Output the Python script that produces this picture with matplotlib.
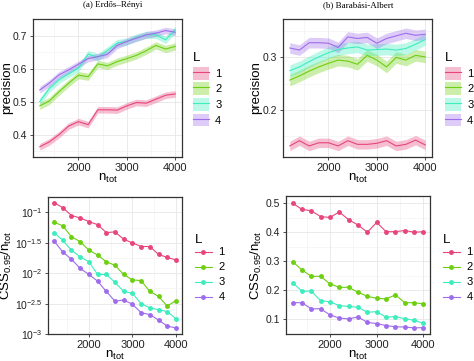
import numpy as np
import matplotlib
matplotlib.use('Agg')
import matplotlib.pyplot as plt
from matplotlib.lines import Line2D
from matplotlib.patches import Patch

plt.rcParams['font.family'] = ['Liberation Sans', 'DejaVu Sans']
plt.rcParams['mathtext.fontset'] = 'custom'
plt.rcParams['mathtext.rm'] = 'Liberation Sans'
plt.rcParams['mathtext.it'] = 'Liberation Sans:italic'

n_tot = [1200, 1400, 1600, 1800, 2000, 2200, 2400, 2600, 2800, 3000, 3200, 3400, 3600, 3800, 4000]
levels = ['1', '2', '3', '4']
colors = ['#E8457D', '#6CCF10', '#3DEDBF', '#9F6CEC']

# precision, Erdos-Renyi
prec_er_L1 = [0.364, 0.379, 0.401, 0.427, 0.440, 0.431, 0.476, 0.476, 0.475, 0.488, 0.498, 0.496, 0.508, 0.520, 0.524]
prec_er_L2 = [0.488, 0.503, 0.531, 0.557, 0.581, 0.576, 0.615, 0.609, 0.622, 0.631, 0.641, 0.655, 0.671, 0.660, 0.668]
prec_er_L3 = [0.501, 0.541, 0.567, 0.585, 0.602, 0.645, 0.635, 0.656, 0.678, 0.683, 0.695, 0.703, 0.703, 0.688, 0.718]
prec_er_L4 = [0.536, 0.557, 0.582, 0.597, 0.614, 0.631, 0.637, 0.644, 0.671, 0.683, 0.693, 0.703, 0.708, 0.716, 0.711]
err_er = [0.010, 0.011, 0.011, 0.010]

# precision, Barabasi-Albert
prec_ba_L1 = [0.132, 0.142, 0.132, 0.138, 0.138, 0.132, 0.142, 0.135, 0.135, 0.137, 0.142, 0.132, 0.135, 0.143, 0.134]
prec_ba_L2 = [0.257, 0.265, 0.274, 0.282, 0.289, 0.295, 0.293, 0.287, 0.304, 0.295, 0.282, 0.300, 0.295, 0.304, 0.301]
prec_ba_L3 = [0.275, 0.282, 0.292, 0.301, 0.309, 0.315, 0.318, 0.320, 0.314, 0.315, 0.316, 0.314, 0.317, 0.325, 0.334]
prec_ba_L4 = [0.318, 0.314, 0.328, 0.328, 0.327, 0.319, 0.339, 0.336, 0.338, 0.327, 0.336, 0.341, 0.346, 0.342, 0.344]
err_ba = [0.009, 0.011, 0.011, 0.010]

# log10(CSS_0.95 / n_tot), Erdos-Renyi
logcss_er_L1 = [-0.84, -0.92, -1.05, -1.09, -1.15, -1.20, -1.33, -1.32, -1.44, -1.50, -1.56, -1.56, -1.69, -1.74, -1.78]
logcss_er_L2 = [-1.16, -1.22, -1.40, -1.48, -1.62, -1.70, -1.81, -1.87, -2.02, -2.11, -2.12, -2.30, -2.38, -2.54, -2.45]
logcss_er_L3 = [-1.33, -1.46, -1.62, -1.73, -1.81, -2.02, -2.02, -2.15, -2.30, -2.33, -2.50, -2.57, -2.60, -2.63, -2.75]
logcss_er_L4 = [-1.47, -1.65, -1.77, -1.92, -2.02, -2.13, -2.30, -2.46, -2.44, -2.51, -2.65, -2.68, -2.77, -2.87, -2.90]

# CSS_0.95 / n_tot, Barabasi-Albert
css_ba_L1 = [0.500, 0.479, 0.474, 0.454, 0.451, 0.470, 0.443, 0.425, 0.400, 0.434, 0.402, 0.402, 0.406, 0.400, 0.402]
css_ba_L2 = [0.299, 0.270, 0.248, 0.248, 0.222, 0.210, 0.210, 0.193, 0.179, 0.172, 0.170, 0.184, 0.157, 0.157, 0.153]
css_ba_L3 = [0.226, 0.197, 0.197, 0.164, 0.160, 0.147, 0.144, 0.141, 0.124, 0.126, 0.107, 0.109, 0.102, 0.096, 0.086]
css_ba_L4 = [0.157, 0.157, 0.136, 0.136, 0.115, 0.104, 0.101, 0.108, 0.089, 0.085, 0.078, 0.074, 0.073, 0.070, 0.071]

W, H = 474, 361
fig = plt.figure(figsize=(W / 100, H / 100), dpi=100)


def add_ax(l, t, r, b):
    return fig.add_axes([l / W, 1 - b / H, (r - l) / W, (b - t) / H])


def style(ax, yticks, yminor, ylim, ylabel, label_right_px, ysize=7.5):
    ax.set_xlim(1060, 4140)
    ax.set_ylim(*ylim)
    ax.set_xticks([2000, 3000, 4000])
    ax.set_xticks([1500, 2500, 3500], minor=True)
    ax.set_yticks(yticks)
    ax.set_yticks(yminor, minor=True)
    ax.grid(which='major', color='#E6E6E6', lw=0.6)
    ax.grid(which='minor', color='#F0F0F0', lw=0.4)
    ax.set_axisbelow(True)
    ax.tick_params(which='major', length=2.5, width=0.6, color='#333333', labelsize=8,
                   labelcolor='#222222', pad=1.5)
    ax.tick_params(axis='y', which='major', labelsize=ysize)
    ax.tick_params(which='minor', length=0)
    for s in ax.spines.values():
        s.set_color('#333333')
        s.set_linewidth(0.9)
    ax.set_xlabel(r'$\mathregular{n_{tot}}$', fontsize=9.5, labelpad=-0.5)
    ax.set_ylabel(ylabel, fontsize=9.5)
    # place the y label like the reference (right edge of rotated text, in pixels)
    box = ax.get_position()
    ax.yaxis.set_label_coords((label_right_px / W - box.x0) / box.width, 0.5)


def ribbon_legend(ax, x, y):
    handles = [(Patch(facecolor=c, alpha=0.35, edgecolor='none'), Line2D([], [], color=c, lw=0.8))
               for c in colors]
    leg = ax.legend(handles, levels, title='L', loc='upper left', bbox_to_anchor=(x / W, 1 - y / H),
                    bbox_transform=fig.transFigure, frameon=False, fontsize=8, title_fontsize=9.5,
                    handlelength=1.4, handleheight=1.4, labelspacing=0.25, handletextpad=0.6,
                    borderaxespad=0, borderpad=0)
    leg._legend_box.align = 'left'


def point_legend(ax, x, y):
    handles = [Line2D([], [], color=c, lw=0.8, marker='o', markersize=2.5) for c in colors]
    leg = ax.legend(handles, levels, title='L', loc='upper left', bbox_to_anchor=(x / W, 1 - y / H),
                    bbox_transform=fig.transFigure, frameon=False, fontsize=8, title_fontsize=9.5,
                    handlelength=1.5, labelspacing=0.45, handletextpad=0.6,
                    borderaxespad=0, borderpad=0)
    leg._legend_box.align = 'left'
    leg._legend_box.sep = 1


# (a) precision ER
ax1 = add_ax(33, 19, 182, 157)
for vals, e, c in zip([prec_er_L1, prec_er_L2, prec_er_L3, prec_er_L4], err_er, colors):
    v = np.array(vals)
    ax1.fill_between(n_tot, v - e, v + e, color=c, alpha=0.35, lw=0)
    ax1.plot(n_tot, v, color=c, lw=0.8)
style(ax1, [0.4, 0.5, 0.6, 0.7], [0.35, 0.45, 0.55, 0.65, 0.75], (0.333, 0.751), 'precision', 13)
ribbon_legend(ax1, 193, 52)

# (b) precision BA
ax2 = add_ax(283, 19, 432, 157)
for vals, e, c in zip([prec_ba_L1, prec_ba_L2, prec_ba_L3, prec_ba_L4], err_ba, colors):
    v = np.array(vals)
    ax2.fill_between(n_tot, v - e, v + e, color=c, alpha=0.35, lw=0)
    ax2.plot(n_tot, v, color=c, lw=0.8)
style(ax2, [0.2, 0.3], [0.15, 0.25, 0.35], (0.111, 0.373), 'precision', 262)
ribbon_legend(ax2, 445, 52)

# CSS ER (log scale)
ax3 = add_ax(48, 197, 182, 334)
for vals, c in zip([logcss_er_L1, logcss_er_L2, logcss_er_L3, logcss_er_L4], colors):
    ax3.plot(n_tot, 10 ** np.array(vals), color=c, lw=0.8, marker='o', markersize=2.5)
ax3.set_yscale('log')
style(ax3, [10 ** -3, 10 ** -2.5, 10 ** -2, 10 ** -1.5, 10 ** -1],
      [10 ** -2.75, 10 ** -2.25, 10 ** -1.75, 10 ** -1.25, 10 ** -0.75],
      (10 ** -3.0, 10 ** -0.745), r'$\mathregular{CSS_{0.95}/n_{tot}}$', 14, ysize=7.5)
ax3.set_yticklabels([r'$\mathregular{10^{-3}}$', r'$\mathregular{10^{-2.5}}$', r'$\mathregular{10^{-2}}$',
                     r'$\mathregular{10^{-1.5}}$', r'$\mathregular{10^{-1}}$'])
ax3.yaxis.set_minor_formatter(matplotlib.ticker.NullFormatter())
point_legend(ax3, 195, 234)

# CSS BA
ax4 = add_ax(286, 196, 430, 334)
for vals, c in zip([css_ba_L1, css_ba_L2, css_ba_L3, css_ba_L4], colors):
    ax4.plot(n_tot, vals, color=c, lw=0.8, marker='o', markersize=2.5)
style(ax4, [0.1, 0.2, 0.3, 0.4, 0.5], [0.15, 0.25, 0.35, 0.45], (0.049, 0.525),
      r'$\mathregular{CSS_{0.95}/n_{tot}}$', 264)
point_legend(ax4, 443, 234)

fig.text(113 / W, 1 - 5 / H, '(a) Erdős–Rényi', family=['Liberation Serif', 'DejaVu Serif'],
         fontsize=6.5, ha='center', va='center')
fig.text(358 / W, 1 - 5 / H, '(b) Barabási-Albert', family=['Liberation Serif', 'DejaVu Serif'],
         fontsize=6.5, ha='center', va='center')

fig.savefig('out.png', dpi=100)
